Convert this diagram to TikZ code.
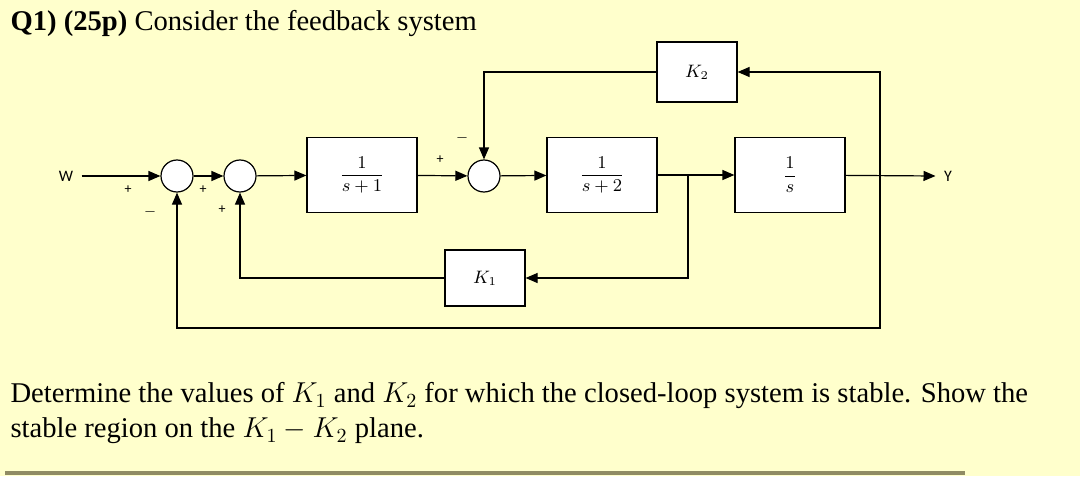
\documentclass[tikz,border=0pt]{standalone}
\usepackage{amsmath}
\usepackage{fontspec}
\setmainfont{Liberation Serif}
\newfontfamily\blockfont{Carlito}
\usetikzlibrary{arrows.meta}
\usetikzlibrary{calc}
\definecolor{paper}{RGB}{255,255,204}
\tikzset{
  blk/.style={draw,fill=white,inner sep=0pt,font=\blockfont\fontsize{9}{10}\selectfont},
  sumj/.style={draw,fill=white,circle,minimum size=16pt,inner sep=0pt},
  sg/.style={inner sep=0pt,font=\blockfont\fontsize{7}{8}\selectfont},
  sig/.style={-{Triangle[length=6pt,width=5pt]}}
}
\begin{document}
\begin{tikzpicture}[x=0.5pt,y=-0.5pt,line width=0.6pt]
    \fill[paper] (0,0) rectangle (1080,476);
    \useasboundingbox (0,0) rectangle (1080,476);
    \node[anchor=base west,inner sep=0pt,font=\fontsize{14.3}{16}\selectfont] (title) at (10,31) {\textbf{Q1) (25p)} Consider the feedback system};
    % blocks
    \node[blk,minimum width=55pt,minimum height=37.5pt] (G1) at (362,175) {$\dfrac{1}{s+1}$};
    \node[blk,minimum width=55pt,minimum height=37.5pt] (G2) at (602,175) {$\dfrac{1}{s+2}$};
    \node[blk,minimum width=55pt,minimum height=37.5pt] (G3) at (790,175) {$\dfrac{1}{s}$};
    \node[blk,minimum width=40pt,minimum height=30pt] (K2) at (697,72) {$K_2$};
    \node[blk,minimum width=40pt,minimum height=28pt] (K1) at (485,278) {$K_1$};
    \node[sumj] (S1) at (177,176) {};
    \node[sumj] (S2) at (240,176) {};
    \node[sumj] (S3) at (484,176) {};
    \node[inner sep=0pt,font=\blockfont\fontsize{8}{9}\selectfont] (W) at (66,176) {W};
    \node[inner sep=0pt,font=\blockfont\fontsize{8}{9}\selectfont] (Y) at (948,176) {Y};
    \coordinate (p2) at (688,176);
    \coordinate (p3) at (880,176);
    % forward path
    \draw[sig] (W.east) ++(8,0) -- (S1);
    \draw[sig] (S1) -- (S2);
    \draw[sig] (S2) -- (G1);
    \draw[sig] (G1) -- (S3);
    \draw[sig] (S3) -- (G2);
    \draw[sig] (G2) -- (G3);
    \draw[sig] (G3) -- ($(Y.west)+(-8,0)$);
    % feedback
    \draw[sig] (p3) |- (K2);
    \draw[sig] (K2) -| (S3);
    \draw[sig] (p2) |- (K1);
    \draw[sig] (K1) -| (S2);
    \draw[sig] (p3) -- (880,328) -| (S1);
    % signs
    \node[sg] at (128,190) {+};
    \node[sg] at (150,212) {$-$};
    \node[sg] at (203,190) {+};
    \node[sg] at (222,210) {+};
    \node[sg] at (440,160) {+};
    \node[sg] at (462,138) {$-$};
    % question
    \node[anchor=north west,inner sep=0pt,align=left,font=\fontsize{14.3}{17.5}\selectfont] (q) at (10,382)
      {Determine the values of $K_1$ and $K_2$ for which the closed-loop system is stable. Show the\\stable region on the $K_1-K_2$ plane.};
    \draw[line width=2pt,gray!70!olive] (5,473) -- (965,473);
\end{tikzpicture}
\end{document}
